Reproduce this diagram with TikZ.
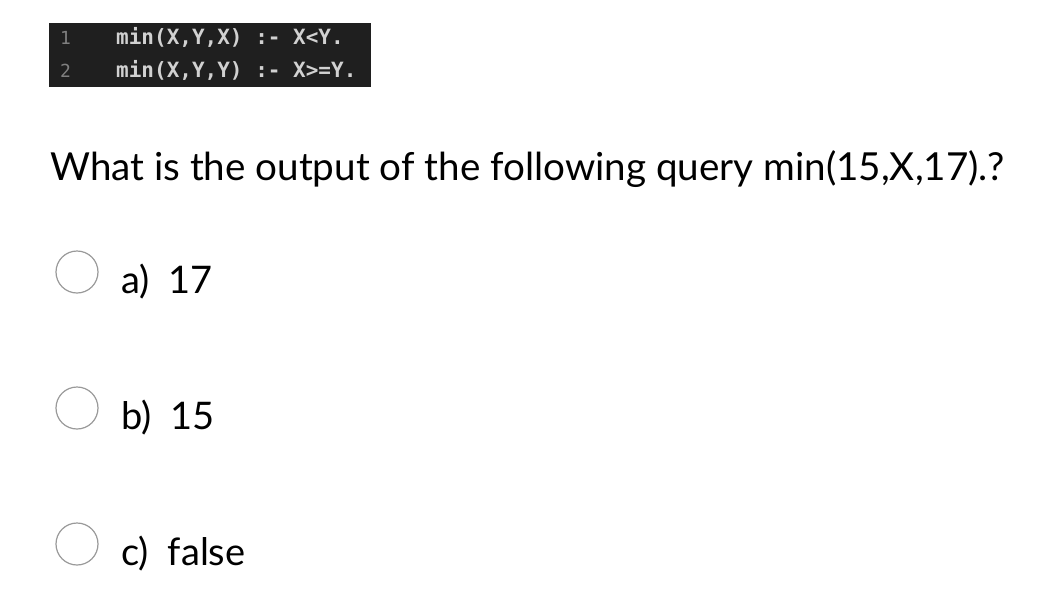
\documentclass[tikz,border=0pt]{standalone}
\usepackage{fontspec}
\setmainfont{Lato}
\newfontfamily\codefont{DejaVu Sans Mono}
\begin{document}
\begin{tikzpicture}[x=1pt,y=-1pt,
 codeline/.style={anchor=base west,inner sep=0,font=\codefont\bfseries\fontsize{21}{22}\selectfont,text=white!82!black},
 lnum/.style={anchor=base west,inner sep=0,font=\codefont\fontsize{18}{20}\selectfont,text=gray},
 opt/.style={anchor=base west,inner sep=0,font=\fontsize{38}{42}\selectfont},
 radio/.style={circle,draw=gray!80,line width=1.2pt,minimum size=42pt,inner sep=0}]
\useasboundingbox (0,0) rectangle (1042,598);
\fill[fill=black!88] (49,23) rectangle (371,87);
\node[lnum] (n1) at (60,44) {1};
\node[lnum] (n2) at (60,77) {2};
\node[codeline] (c1) at (116,44) {min(X,Y,X) :- X<Y.};
\node[codeline] (c2) at (116,77) {min(X,Y,Y) :- X>=Y.};
\node[anchor=base west,inner sep=0,font=\fontsize{38.6}{42}\selectfont] (q) at (50,180) {What is the output of the following query min(15,X,17).?};
\node[radio] (ra) at (77,272) {};
\node[radio] (rb) at (77,408) {};
\node[radio] (rc) at (77,544) {};
\node[opt] (a) at (121,293) {a)\enspace 17};
\node[opt] (b) at (121,429) {b)\enspace 15};
\node[opt] (c) at (121,565) {c)\enspace false};
\end{tikzpicture}
\end{document}
